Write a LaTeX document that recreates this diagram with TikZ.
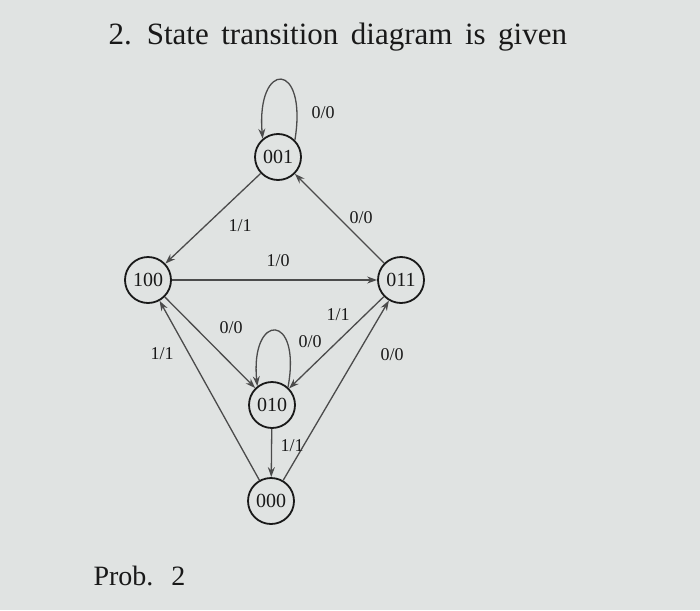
\documentclass[tikz,border=0pt]{standalone}
\usepackage{fontspec}
\setmainfont{Liberation Serif}
\usetikzlibrary{arrows.meta}
\definecolor{paper}{RGB}{224,227,226}
\definecolor{ink}{RGB}{25,25,25}
\definecolor{edgecol}{RGB}{75,75,75}
\tikzset{
  state/.style={circle, draw=ink, line width=1.8pt, minimum size=46pt, inner sep=0pt,
    font=\fontsize{20}{20}\selectfont, text=ink},
  lbl/.style={font=\fontsize{18}{18}\selectfont, text=ink, inner sep=0pt},
  tr/.style={draw=edgecol, line width=1.3pt, -{Stealth[length=10pt,width=7pt]}}
}
\begin{document}
\begin{tikzpicture}[x=1pt,y=-1pt]
\fill[paper] (0,0) rectangle (700,610);
\useasboundingbox (0,0) rectangle (700,610);

\node[anchor=base west, font=\fontsize{31}{31}\selectfont, text=ink] (title) at (105,45)
  {\spaceskip=12.5pt 2. State transition diagram is given};
\node[anchor=base west, font=\fontsize{28}{28}\selectfont, text=ink] (prob) at (90,585)
  {Prob.\hspace{18pt}2};

\node[state] (s001) at (278,157) {001};
\node[state] (s100) at (148,280) {100};
\node[state] (s011) at (401,280) {011};
\node[state] (s010) at (272,405) {010};
\node[state] (s000) at (271,501) {000};

\draw[tr] (s001.45) .. controls (308,60) and (256,60) .. (s001.130);
\draw[tr] (s001) -- (s100);
\draw[tr] (s011) -- (s001);
\draw[tr] (s100) -- (s011);
\draw[tr] (s100) -- (s010);
\draw[tr] (s011) -- (s010);
\draw[tr] (s010.48) .. controls (302,312) and (250,312) .. (s010.128);
\draw[tr] (s010) -- (s000);
\draw[tr] (s000) -- (s100);
\draw[tr] (s000) -- (s011);

\node[lbl] (l1) at (323,113) {0/0};
\node[lbl] (l2) at (240,226) {1/1};
\node[lbl] (l3) at (361,218) {0/0};
\node[lbl] (l4) at (278,261) {1/0};
\node[lbl] (l5) at (231,328) {0/0};
\node[lbl] (l6) at (310,342) {0/0};
\node[lbl] (l7) at (338,315) {1/1};
\node[lbl] (l8) at (162,354) {1/1};
\node[lbl] (l9) at (392,355) {0/0};
\node[lbl] (l10) at (292,446) {1/1};
\end{tikzpicture}
\end{document}
